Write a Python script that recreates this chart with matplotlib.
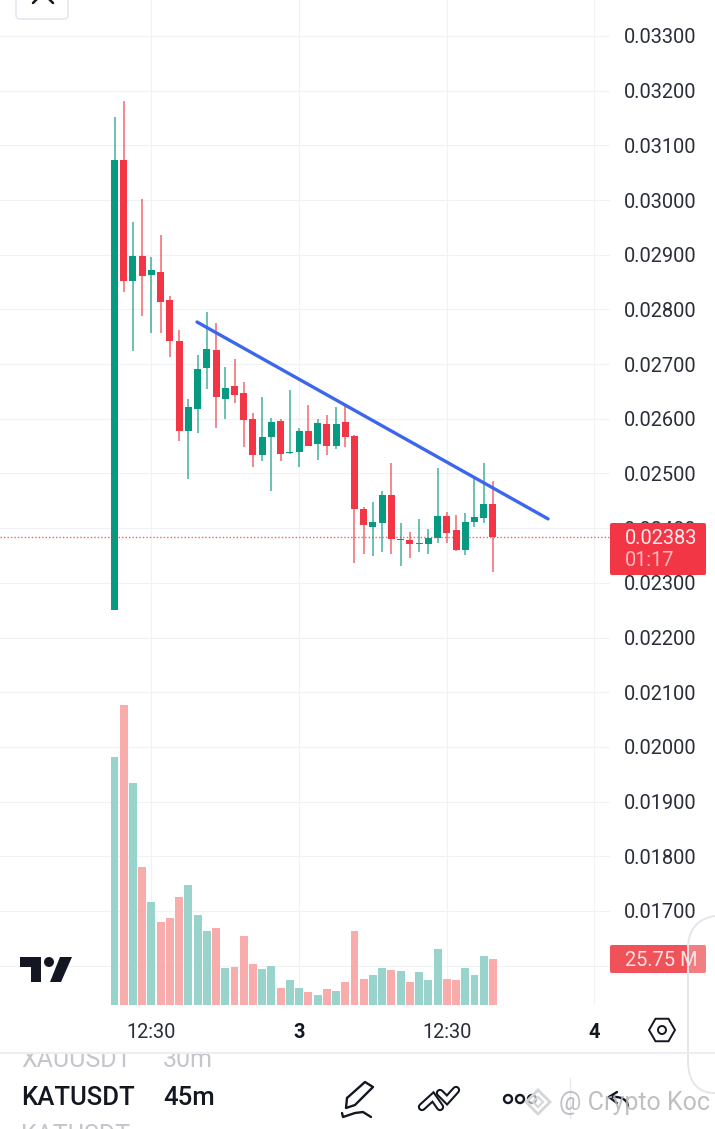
import matplotlib
matplotlib.use("Agg")
import matplotlib.pyplot as plt
from matplotlib.patches import Circle, FancyBboxPatch, PathPatch, Polygon, Rectangle, RegularPolygon
from matplotlib.path import Path

plt.rcParams["font.family"] = ["Roboto", "DejaVu Sans"]

W, H = 715, 1129

# candles, prices in units of 0.00001
opens = [2250, 3073, 2852, 2898, 2863, 2868, 2817, 2742, 2578, 2618, 2693, 2726, 2636, 2660,
         2647, 2600, 2534, 2567, 2596, 2537, 2539, 2578, 2554, 2590, 2550, 2594, 2569, 2435,
         2402, 2410, 2461, 2378, 2378, 2371, 2371, 2382, 2422, 2397, 2360, 2411, 2419, 2444]
highs = [3152, 3181, 2960, 3002, 2896, 2936, 2825, 2762, 2636, 2717, 2795, 2775, 2695, 2709,
         2667, 2611, 2640, 2601, 2600, 2653, 2583, 2625, 2600, 2607, 2622, 2625, 2571, 2439,
         2448, 2468, 2519, 2410, 2393, 2417, 2398, 2510, 2430, 2424, 2428, 2492, 2519, 2486]
lows = [2250, 2832, 2724, 2788, 2757, 2757, 2713, 2559, 2490, 2574, 2654, 2583, 2600, 2629,
        2548, 2512, 2523, 2468, 2523, 2536, 2512, 2550, 2525, 2534, 2545, 2548, 2336, 2353,
        2349, 2356, 2353, 2331, 2345, 2356, 2353, 2373, 2373, 2358, 2351, 2402, 2410, 2320]
closes = [3073, 2852, 2898, 2861, 2872, 2814, 2742, 2578, 2622, 2691, 2728, 2640, 2656, 2644,
          2598, 2534, 2567, 2594, 2536, 2539, 2578, 2550, 2592, 2550, 2590, 2567, 2435, 2406,
          2411, 2461, 2380, 2380, 2371, 2373, 2382, 2422, 2391, 2360, 2411, 2420, 2444, 2383]
# volume in millions
volumes = [138.9, 168.0, 124.3, 77.3, 57.7, 46.5, 48.7, 60.5, 67.2, 50.4, 41.4, 43.1, 20.7, 21.3,
           38.6, 23.0, 20.2, 21.8, 9.5, 14.0, 9.5, 7.3, 5.6, 9.0, 7.8, 12.9, 41.4, 14.6,
           16.8, 20.7, 19.6, 19.0, 12.9, 18.5, 14.0, 31.4, 14.6, 14.0, 20.7, 16.8, 27.4, 25.75]

price_ticks = [0.017, 0.018, 0.019, 0.020, 0.021, 0.022, 0.023, 0.024, 0.025, 0.026, 0.027,
               0.028, 0.029, 0.030, 0.031, 0.032, 0.033]
time_ticks = [4, 20, 36, 52]
time_labels = ["12:30", "3", "12:30", "4"]
trend_x = [8.94, 46.97]
trend_y = [0.02777, 0.02417]
last_price = 0.02383

GREEN = "#089981"
RED = "#f23645"
GRID = "#f0f2f5"
TEXT = "#2a2e39"
DARK = "#131722"


def icon_line(ax, xs, ys, lw=1.7):
    ax.plot(xs, ys, color=DARK, lw=lw, solid_capstyle="round", solid_joinstyle="round")


def main():
    fig = plt.figure(figsize=(W / 100, H / 100), dpi=100, facecolor="white")
    pos = [0, (H - 1005) / H, 610 / W, 1005 / H]

    # volume pane goes over the grid of the price pane
    ax = fig.add_axes(pos, zorder=1)
    vol_ax = fig.add_axes(pos, zorder=2)
    ui = fig.add_axes([0, 0, 1, 1], zorder=3)
    ui.set_xlim(0, W)
    ui.set_ylim(H, 0)
    ui.axis("off")

    xs = list(range(len(opens)))
    is_up = [c >= o for o, c in zip(opens, closes)]
    colors = [GREEN if u else RED for u in is_up]

    for a in (vol_ax, ax):
        a.set_xlim(-12.405, 53.68)
    vol_ax.patch.set_alpha(0)
    vol_ax.set_ylim(0, 562.8)
    vol_ax.bar(xs, volumes, width=0.86, color=["#94d3c9" if u else "#f8a9a9" for u in is_up], alpha=0.96)
    vol_ax.set_xticks([])
    vol_ax.set_yticks([])
    for s in vol_ax.spines.values():
        s.set_visible(False)

    ax.set_ylim(0.015281, 0.033658)
    ax.axhline(0.016, color=GRID, lw=0.8, zorder=0)
    ax.set_yticks(price_ticks)
    ax.set_yticklabels([f"{t:.5f}" for t in price_ticks], fontsize=14.4, color=TEXT)
    ax.yaxis.tick_right()
    ax.tick_params(axis="y", length=0, pad=10)
    ax.set_xticks(time_ticks)
    ax.set_xticklabels(time_labels, fontsize=14.4, color=TEXT)
    for lab in ax.get_xticklabels():
        if lab.get_text() in ("3", "4"):
            lab.set_fontweight("bold")
            lab.set_color(DARK)
    ax.tick_params(axis="x", length=0, pad=13)
    ax.grid(True, color=GRID, lw=0.8)
    ax.set_axisbelow(True)
    for s in ax.spines.values():
        s.set_visible(False)

    ax.vlines(xs, [l / 1e5 for l in lows], [h / 1e5 for h in highs], colors=colors, lw=1.2, alpha=0.7, zorder=3)
    ax.bar(xs, [abs(c - o) / 1e5 for o, c in zip(opens, closes)],
           bottom=[min(o, c) / 1e5 for o, c in zip(opens, closes)],
           width=0.76, color=colors, zorder=4)
    ax.axhline(last_price, color=RED, lw=1.0, ls=(0, (1, 1.5)), alpha=0.8, zorder=5)
    ax.plot(trend_x, trend_y, color="#3d66ee", lw=2.4, solid_capstyle="round", zorder=6)

    # price and volume tags
    ui.add_patch(FancyBboxPatch((610, 523), 96, 52, boxstyle="round,pad=0,rounding_size=2", fc=RED, ec="none"))
    ui.text(625, 538, "0.02383", fontsize=14.4, color="#fde9ea", va="center")
    ui.text(625, 561, "01:17", fontsize=14.4, color="#fbb9bf", va="center")
    ui.add_patch(FancyBboxPatch((610, 945), 96, 28, boxstyle="round,pad=0,rounding_size=2", fc="#ef5359", ec="none"))
    ui.text(625, 960, "25.75 M", fontsize=14.4, color="#fde3e3", va="center")

    # TradingView logo
    ui.add_patch(Polygon([(20, 957), (41, 957), (41, 982), (31, 982), (31, 967), (20, 967)], fc=DARK))
    ui.add_patch(Circle((49, 962), 5, fc=DARK))
    ui.add_patch(Polygon([(60, 957), (72, 957), (61, 982), (50, 982)], fc=DARK))

    # cropped button at the top
    ui.add_patch(FancyBboxPatch((16, -20), 52, 39, boxstyle="round,pad=0,rounding_size=4", fc="white", ec="#e0e3eb", lw=1))
    icon_line(ui, [33, 43, 53], [3, -7, 3], lw=1.8)

    # settings hexagon
    ui.add_patch(RegularPolygon((662, 1030), 6, radius=13, orientation=0.5236, fc="none", ec=DARK, lw=1.4))
    ui.add_patch(Circle((662, 1030), 4, fc="none", ec=DARK, lw=1.4))

    # bottom bar, the row above is cut off by the chart edge
    ui.text(21, 1060, "XAUUSDT", fontsize=18, color="#c4c6cc", va="center", zorder=1)
    ui.text(163, 1060, "30m", fontsize=18, color="#c4c6cc", va="center", zorder=1)
    ui.add_patch(Rectangle((0, 1040), 300, 14, fc="white", ec="none", zorder=2))
    ui.plot([0, W], [1053, 1053], color="#eceef2", lw=1.5, zorder=3)
    ui.text(21, 1098, "KATUSDT", fontsize=18.5, color=DARK, va="center", fontweight="medium")
    ui.text(163, 1098, "45m", fontsize=18.5, color=DARK, va="center", fontweight="medium")
    ui.text(21, 1136, "KATUSDT", fontsize=18, color="#c4c6cc", va="center")

    # pencil icon
    icon_line(ui, [347, 365, 373, 355, 346, 347], [1098, 1082, 1087, 1105, 1108, 1098])
    icon_line(ui, [342, 343, 355, 363, 371], [1113, 1117, 1113, 1112, 1117])
    # zigzag icon, outlined strokes
    for sx, sy in [([422, 433, 440], [1107, 1097, 1107]), ([440, 447, 456], [1093, 1100, 1090])]:
        ui.plot(sx, sy, color=DARK, lw=6, solid_capstyle="round", solid_joinstyle="miter")
        ui.plot(sx, sy, color="white", lw=3, solid_capstyle="round", solid_joinstyle="miter")
    # more and undo icons
    for cx in [508, 520, 532]:
        ui.add_patch(Circle((cx, 1099), 4, fc="none", ec=DARK, lw=1.7))
    ui.add_patch(PathPatch(Path([(609, 1097), (620, 1096), (628, 1099), (628, 1107)],
                                [Path.MOVETO, Path.CURVE4, Path.CURVE4, Path.CURVE4]),
                           fc="none", ec=DARK, lw=1.7))
    icon_line(ui, [617, 609, 617], [1092, 1097, 1103])

    # translucent panel on the right
    panel = Path([(715, 916), (698, 918), (688, 930), (688, 948), (688, 1060), (688, 1085), (700, 1093), (715, 1093)],
                 [Path.MOVETO, Path.CURVE4, Path.CURVE4, Path.CURVE4, Path.LINETO, Path.CURVE4, Path.CURVE4, Path.CURVE4])
    ui.add_patch(PathPatch(panel, fc=(1, 1, 1, 0.25), ec="#e4e6ea", lw=1.4))

    # watermark
    ui.plot([570, 570], [1078, 1118], color="#e8e9ec", lw=1)
    ui.add_patch(Polygon([(538, 1090), (550, 1102), (538, 1114), (526, 1102)], fc=(1, 1, 1, 0.6), ec="#d5d6d8", lw=2))
    ui.add_patch(Polygon([(538, 1097), (543, 1102), (538, 1107), (533, 1102)], fc="none", ec="#d5d6d8", lw=1.5))
    ui.text(559, 1103, "@ Crypto Koc", fontsize=18, color="#b4b5b8", alpha=0.85, va="center")

    fig.savefig("out.png", dpi=100)
    plt.close(fig)


if __name__ == "__main__":
    main()
